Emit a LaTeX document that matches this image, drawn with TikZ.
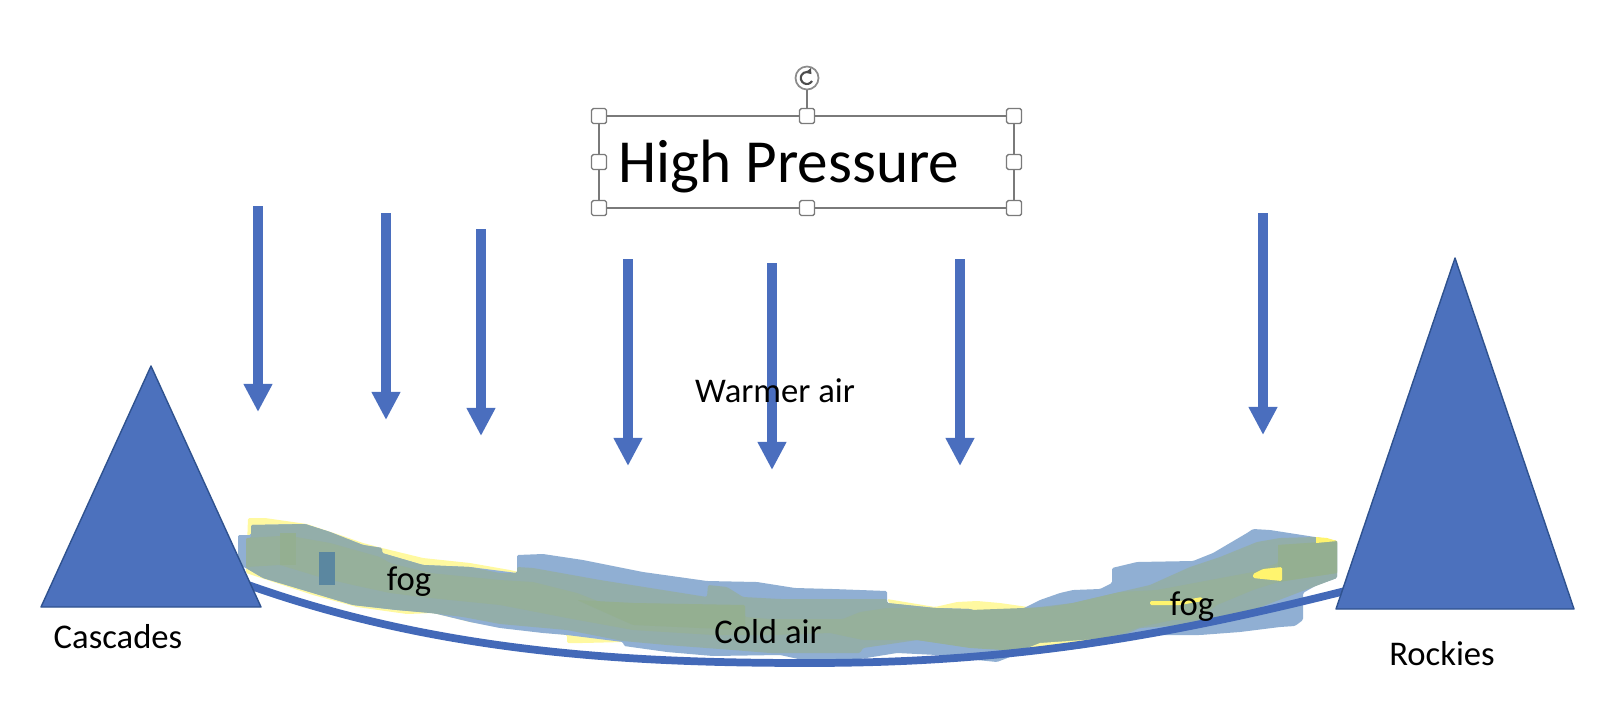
\documentclass[tikz,border=0pt]{standalone}
\usepackage{fontspec}
\setmainfont{Carlito}
\usetikzlibrary{arrows.meta}
\definecolor{mtnblue}{HTML}{4C71BD}
\definecolor{mtnedge}{HTML}{2F528F}
\definecolor{arrowblue}{HTML}{4A6EBE}
\definecolor{floorblue}{HTML}{4369B8}
\definecolor{fogyellow}{HTML}{FFF9A0}
\definecolor{patchyellow}{HTML}{FFF46E}
\definecolor{foglight}{HTML}{90AFD3}
\definecolor{foggrey}{HTML}{93AEAA}
\definecolor{foggreen}{HTML}{96B09B}
\definecolor{fogdeep}{HTML}{94AF91}
\definecolor{fogdark}{HTML}{5B87A0}
\definecolor{framegrey}{HTML}{7A7A7A}
\tikzset{
  sink/.style={draw=arrowblue,line width=2.6pt,-{Triangle[length=0.28cm,width=0.27cm]}},
  mountain/.style={fill=mtnblue,draw=mtnedge,line width=0.4pt,line join=round},
  handle/.style={draw=framegrey,fill=white,rounded corners=0.5pt,line width=0.4pt,minimum size=0.15cm,inner sep=0pt},
  framed/.style={draw=framegrey,line width=0.5pt},
  label/.style={font=\fontsize{9.85}{12}\selectfont,inner sep=0pt},
  brush/.style={rounded corners=0.4pt},
}
\begin{document}
\begin{tikzpicture}[x=0.01cm,y=-0.01cm]
  \useasboundingbox (0,0) rectangle (1600,727);
  % fog band, back to front
  \fill[fogyellow,brush] (248,518)--(265,518)--(307,524)--(340,535)--(363,543)--(382,548)--(423,558)--(470,563)--(510,570)
    --(640,600)--(640,640)--(623,642)--(583,643)--(567,643)--(567,635)--(510,628)--(470,622)--(433,613)--(407,614)
    --(357,607)--(313,595)--(246,573)--cycle;
  \fill[fogyellow,brush] (887,599)--(935,607)--(957,602)--(977,601)--(1000,603)--(1028,607)--(1018,620)--(900,620)--cycle;
  \fill[foglight,brush] (238,535)--(251,535)--(251,525)--(305,524)--(330,532)--(363,545)--(382,548)--(382,553)--(423,565)
    --(470,567)--(517,573)--(517,555)--(543,554)--(583,560)--(643,572)--(707,581)--(757,582)--(795,588)--(833,589)
    --(887,591)--(887,603)--(935,608)--(970,609)--(987,615)--(1000,610)--(1020,610)--(1040,600)--(1060,593)--(1073,590)
    --(1100,589)--(1112,583)--(1112,568)--(1137,562)--(1193,561)--(1213,553)--(1247,533)--(1253,529)--(1270,530)
    --(1315,537)--(1337,541)--(1337,578)--(1317,585)--(1303,593)--(1303,620)--(1295,626)--(1280,627)--(1240,632)
    --(1200,635)--(1140,635)--(1113,638)--(1050,650)--(1020,650)--(1010,657)--(997,662)--(977,660)--(937,655)--(897,653)
    --(860,659)--(803,660)--(780,655)--(713,656)--(667,652)--(624,646)--(623,642)--(567,635)--(543,633)--(500,628)
    --(470,622)--(433,613)--(397,610)--(353,605)--(313,593)--(263,578)--(246,568)--(238,565)--cycle;
  \fill[foggrey,brush] (251,525)--(305,524)--(330,532)--(363,545)--(382,548)--(382,553)--(423,565)--(470,567)--(500,573)
    --(517,573)--(517,567)--(533,568)--(600,580)--(707,597)--(708,585)--(727,587)--(743,597)--(780,599)--(887,599)
    --(887,603)--(935,608)--(970,609)--(987,615)--(1000,612)--(1040,607)--(1073,603)--(1107,595)--(1150,585)--(1190,567)
    --(1220,557)--(1257,542)--(1280,538)--(1315,537)--(1337,541)--(1337,578)--(1300,592)--(1253,610)--(1213,620)
    --(1183,625)--(1140,628)--(1117,638)--(1020,650)--(977,648)--(917,640)--(897,643)--(863,648)--(860,653)--(770,653)
    --(733,650)--(667,645)--(623,641)--(567,630)--(500,624)--(463,617)--(430,613)--(397,610)--(353,605)--(313,593)
    --(263,578)--(246,568)--(246,538)--(251,538)--cycle;
  \fill[foggreen,brush] (246,538)--(280,536)--(296,537)--(330,543)--(380,557)--(390,563)--(430,573)--(500,580)--(533,582)
    --(577,593)--(600,602)--(697,605)--(745,605)--(745,617)--(770,619)--(843,619)--(860,612)--(887,608)--(935,608)
    --(970,610)--(1050,607)--(1073,603)--(1120,592)--(1157,590)--(1253,572)--(1278,563)--(1278,545)--(1337,541)
    --(1337,573)--(1278,582)--(1253,590)--(1217,605)--(1197,620)--(1173,620)--(1140,627)--(1107,638)--(1083,648)
    --(1040,653)--(1003,650)--(970,648)--(917,640)--(863,640)--(830,633)--(775,635)--(713,635)--(633,630)--(567,618)
    --(500,605)--(430,598)--(390,593)--(353,585)--(323,578)--(280,565)--(246,567)--cycle;
  \fill[fogdeep] (280,533) rectangle (296,565);
  \fill[fogdeep] (1278,545)--(1337,541)--(1337,573)--(1278,582)--cycle;
  \fill[fogdeep,brush] (577,600)--(633,603)--(745,605)--(745,630)--(633,625)--cycle;
  \fill[fogdark] (319,552) rectangle (335,585);
  \fill[patchyellow,brush] (1150,601)--(1180,601)--(1202,597)--(1203,601)--(1180,605)--(1150,605)--cycle;
  \fill[patchyellow,brush] (1253,574)--(1263,569)--(1282,567)--(1282,581)--(1253,578)--cycle;
  \fill[patchyellow] (1316,537)--(1327,538)--(1337,541)--(1316,543)--cycle;
  \fill[fogyellow] (1040,643)--(1113,638)--(1097,645)--(1040,648)--(1020,651)--cycle;
  % valley floor
  \coordinate (floorL) at (240,582);
  \coordinate (floorM) at (810,663);
  \coordinate (floorR) at (1345,591);
  \draw[floorblue,line width=2.2pt] (floorL) .. controls (440,655) and (640,663) .. (floorM)
    .. controls (1000,663) and (1150,640) .. (floorR);
  % mountains
  \coordinate (cascL) at (41,607);
  \coordinate (cascT) at (151,366);
  \coordinate (cascR) at (261,607);
  \coordinate (rockL) at (1336,609);
  \coordinate (rockT) at (1455,258);
  \coordinate (rockR) at (1574,609);
  \draw[mountain] (cascL)--(cascT)--(cascR)--cycle;
  \draw[mountain] (rockL)--(rockT)--(rockR)--cycle;
  % sinking air
  \foreach \i/\x/\ya/\yb in {1/258/206/412,2/386/213/420,3/481/229/436,4/628/259/466,5/772/263/470,6/960/259/466,7/1263/213/435}{
    \coordinate (top\i) at (\x,\ya);
    \coordinate (tip\i) at (\x,\yb);
    \draw[sink] (top\i) -- (tip\i);
  }
  % selected text box
  \node[inner sep=0pt,anchor=base,font=\fontsize{17.4}{21}\selectfont] (title) at (789,182) {High Pressure};
  \foreach \n/\x/\y in {NW/599/116,N/807/116,NE/1014/116,W/599/162,E/1014/162,SW/599/208,S/807/208,SE/1014/208}{
    \coordinate (c\n) at (\x,\y);
  }
  \node[draw=black!45,fill=white,circle,minimum size=0.23cm,inner sep=0pt,line width=0.5pt] (rot) at (807,78) {};
  \draw[framed] (rot) -- (cN);
  \draw[framed] (cNW) -- (cNE) -- (cSE) -- (cSW) -- cycle;
  \foreach \n in {NW,N,NE,W,E,SW,S,SE}{
    \node[handle] (h\n) at (c\n) {};
  }
  \draw[black!70,line width=0.6pt,-{Triangle[length=0.05cm,width=0.07cm]}] (812,81) arc[start angle=-30,end angle=-320,radius=0.06cm];
  % labels
  \node[label] (warmer) at (775,391) {Warmer air};
  \node[label] (fogL) at (409,582) {fog};
  \node[label] (cold) at (768,632) {Cold air};
  \node[label] (fogR) at (1192,607) {fog};
  \node[label] (casc) at (118,637) {Cascades};
  \node[label] (rock) at (1442,654) {Rockies};
\end{tikzpicture}
\end{document}
